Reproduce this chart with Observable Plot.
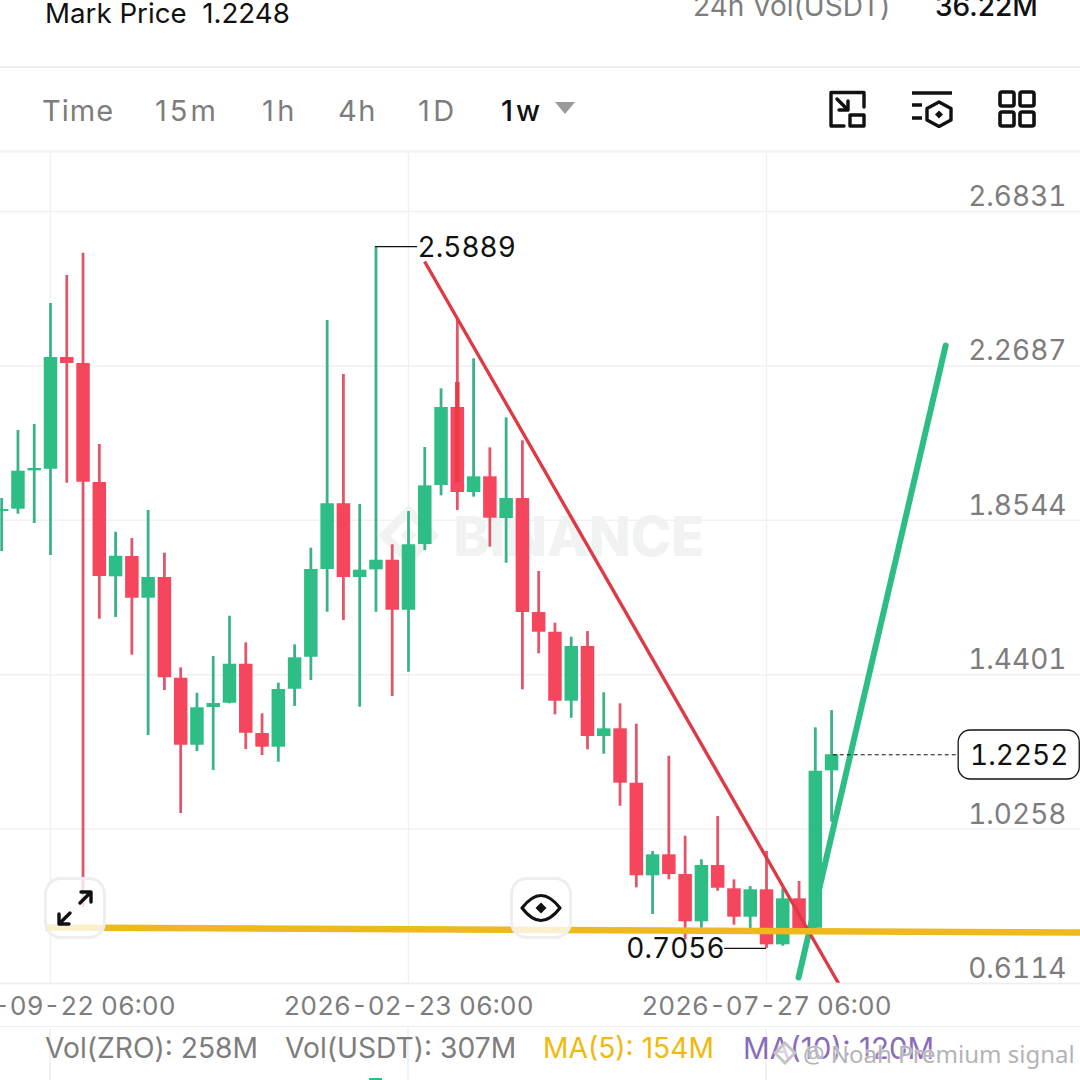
<!DOCTYPE html>
<html>
<head>
<meta charset="utf-8">
<script src="https://cdn.jsdelivr.net/npm/d3@7"></script>
<script src="https://cdn.jsdelivr.net/npm/@observablehq/plot@0.6"></script>
<style>
html,body{margin:0;padding:0;background:#fff;width:1080px;height:1080px;overflow:hidden;font-family:Inter,"Noto Sans",sans-serif}
#page{position:relative;width:1080px;height:1080px;overflow:hidden}
#head{position:relative;height:150px;border-bottom:3px solid #f5f5f5;box-sizing:content-box}
#foot{position:relative;height:53px;border-top:1.5px solid #eeeeee}
.t{position:absolute;white-space:nowrap;line-height:1;font-size:28px;color:#7d7d7d}
.tab{font-size:29px;top:96px}
.rule{position:absolute;left:0;width:1080px;height:1.5px;background:#eeeeee}
.btn{position:absolute;top:877px;width:56px;height:56px;border:3px solid #eeeeee;border-radius:17px;background:rgba(255,255,255,.78);display:flex;align-items:center;justify-content:center}
.vg{position:absolute;top:1.5px;bottom:0;width:1.5px;background:#f2f2f2}
svg{display:block}
</style>
</head>
<body>
<div id="page">
  <div id="head">
    <div class="t" style="left:45px;top:0px;color:#111;font-size:27.7px">Mark Price&nbsp; 1.2248</div>
    <div class="t" style="left:693px;top:-8px">24h Vol(USDT)</div>
    <div class="t" style="left:935px;top:-8px;color:#111;font-weight:500">36.22M</div>
    <div class="rule" style="top:66px"></div>
    <div class="t tab" style="left:42px;letter-spacing:1px">Time</div>
    <div class="t tab" style="left:155px;letter-spacing:3px">15m</div>
    <div class="t tab" style="left:262px;letter-spacing:3.500px">1h</div>
    <div class="t tab" style="left:338px;letter-spacing:1.500px">4h</div>
    <div class="t tab" style="left:418px;letter-spacing:3.500px">1D</div>
    <div class="t tab" style="left:501px;letter-spacing:3px;color:#111;font-weight:500">1w</div>
    <svg style="position:absolute;left:555px;top:102px" width="20" height="12"><path d="M0 0H20L10 12Z" fill="#9a9a9a"/></svg>
    <svg style="position:absolute;left:828px;top:90px" width="38" height="38" fill="none" stroke="#111" stroke-width="3.4" stroke-linejoin="round" stroke-linecap="round"><path d="M16 36H3V2.500H36V17"/><path d="M9 9L20 20M20 11V20H11"/><rect x="22" y="25" width="14" height="11"/></svg>
    <svg style="position:absolute;left:911px;top:90px" width="42" height="38" fill="none" stroke="#111" stroke-width="3.4" stroke-linejoin="round"><path d="M1 3H41M1 15H11M1 28H11"/><path d="M28 12L40 18.500V30L28 36.500L16 30V18.500Z"/><path d="M28 20.500L32 24.500L28 28.500L24 24.500Z" fill="#111" stroke="none"/></svg>
    <svg style="position:absolute;left:998px;top:90px" width="38" height="38" fill="none" stroke="#111" stroke-width="3.6" stroke-linejoin="round"><rect x="2" y="2" width="14" height="14" rx="2"/><rect x="22" y="2" width="14" height="14" rx="2"/><rect x="2" y="22" width="14" height="14" rx="2"/><rect x="22" y="22" width="14" height="14" rx="2"/></svg>
  </div>
  <div id="chart"></div>
  <div id="foot">
    <div class="vg" style="left:49px"></div>
    <div class="vg" style="left:407px"></div>
    <div class="vg" style="left:765px"></div>
    <div class="t" style="left:45px;top:7px;font-size:28.2px">Vol(ZRO): 258M</div>
    <div class="t" style="left:285px;top:7px;font-size:28.2px">Vol(USDT): 307M</div>
    <div class="t" style="left:543px;top:7px;font-size:28.2px;color:#F0B90B">MA(5): 154M</div>
    <div class="t" style="left:743px;top:7px;font-size:29.5px;color:#8A6DB8">MA(10): 120M</div>
    <div style="position:absolute;left:369px;top:51px;width:13px;height:3px;background:#2EBD85"></div>
    <svg style="position:absolute;left:773px;top:14px" width="24" height="24" fill="none" stroke="#c4c4c4" stroke-width="3"><path d="M12 2L22 12L12 22L2 12Z" fill="rgba(255,255,255,.7)"/></svg>
    <div class="t" style="left:803px;top:15px;font-size:24px;color:#b4b4b4;font-family:'Noto Sans';text-shadow:0 0 2px #fff,0 0 2px #fff">@ Noah Premium signal</div>
  </div>
  <div class="btn" style="left:44px">
    <svg width="44" height="44" fill="none" stroke="#111" stroke-width="3.4" stroke-linecap="round" stroke-linejoin="round"><path d="M27 17L37 7M28 6H38V16M17 27L7 37M6 28V38H16"/></svg>
  </div>
  <div class="btn" style="left:510px">
    <svg width="44" height="44" fill="none" stroke="#111" stroke-width="3.2" stroke-linejoin="round"><path d="M3 22C10 13 16 9.500 22 9.500C28 9.500 34 13 41 22C34 31 28 34.500 22 34.500C16 34.500 10 31 3 22Z"/><path d="M22 16.500L27.500 22L22 27.500L16.500 22Z" fill="#111" stroke="none"/></svg>
  </div>
</div>
<script>
// Weekly candles: the first entry is three weeks before 2025-09-22 06:00 (week 0)
const firstWeek = -3;
const opens  = [1.8780,1.8842,1.9872,1.9915,2.2913,2.2752,1.9558,1.7027,1.7572,1.6453,1.7009,1.4306,1.2508,1.3520,1.3635,1.4682,1.2822,1.2455,1.4011,1.4870,1.7223,1.8986,1.7009,1.7215,1.7473,1.6131,1.7894,1.9477,2.1571,1.9290,1.9711,1.8592,1.9129,1.6069,1.5541,1.3689,1.5157,1.2742,1.2948,1.1489,0.9003,0.9567,0.9038,0.7769,0.9280,0.8655,0.7893,0.8628,0.7152,0.8386,0.7597,1.1822];
const highs  = [1.9129,2.0954,2.1115,2.4362,2.5113,2.5712,2.0578,1.8224,1.8055,1.8807,1.7661,1.4585,1.3904,1.4889,1.5970,1.5256,1.3351,1.4172,1.5203,1.7795,2.3905,2.2456,1.8968,2.5889,1.7886,1.8780,2.0497,2.2073,2.3959,2.2878,2.0489,2.1294,2.0677,1.7170,1.5782,1.5407,1.5559,1.3915,1.3619,1.3072,0.9656,1.2213,1.0066,0.9433,1.0595,0.8896,0.8716,0.9656,0.8655,0.8851,1.2975,1.3439];
const lows   = [1.7706,1.8707,1.8458,1.7599,1.9539,0.8153,1.5890,1.5935,1.4924,1.2769,1.3976,1.0675,1.2339,1.1829,1.3619,1.2393,1.2232,1.2052,1.3547,1.4245,1.6077,1.5855,1.3528,1.6077,1.3815,1.4467,1.7733,1.9201,1.8807,1.9164,1.7822,1.7392,1.3995,1.4961,1.3324,1.3233,1.2385,1.2267,1.0871,0.8681,0.7965,0.8896,0.7286,0.7597,0.8590,0.7678,0.7589,0.7056,0.7115,0.7536,0.7589,1.0442];
const closes = [1.8833,1.9861,1.9934,2.2913,2.2752,1.9566,1.7035,1.7580,1.6453,1.7009,1.4317,1.2508,1.3512,1.3627,1.4682,1.2830,1.2455,1.4003,1.4854,1.7223,1.8986,1.7009,1.7205,1.7473,1.6131,1.7886,1.9469,2.1571,1.9290,1.9711,1.8600,1.9129,1.6069,1.5541,1.3689,1.5157,1.2742,1.2948,1.1489,0.9003,0.9567,0.9038,0.7769,0.9280,0.8671,0.7893,0.8628,0.7152,0.8386,0.7536,1.1811,1.2252];

const priceTicks = [2.6831,2.2687,1.8544,1.4401,1.0258,0.6114];
const weekTicks = [0,22,44];
const weekLabels = ["2025-09-22 06:00","2026-02-23 06:00","2026-07-27 06:00"];

const supportLine = [{w:-0.3,p:0.7616},{w:63.3,p:0.7481}];
const downTrend = [{w:22.99,p:2.5489},{w:48.43,p:0.6114}];
const upTrend = [{w:45.97,p:0.6275},{w:55.01,p:2.3235}];
const highlight = {w:25,p1:2.2241,p2:1.9558};
const hiLabel = {w1:19.98,w2:22.56,p:2.5889,text:"2.5889"};
const loLabel = {w1:41.43,w2:44,p:0.7056,text:"0.7056"};
const lastPrice = {w1:48.1,w2:55.81,w3:63.25,p:1.2252,top:1.2903,bottom:1.1588,text:"1.2252"};
const paneTopPrice = 2.8414;
const logo = {w:22,p:1.8136};
const brand = {w:24.77,p:1.8055,text:"BINANCE"};

const GREEN="#2EBD85", RED="#F6465D", GRID="#f1f1f1", INK="#111111", GREY="#7d7d7d";
const WICK_G="#3BB38A", WICK_R="#E2566B";
const candles = opens.map((o,i)=>{
  const up = closes[i]>=o;
  return {w:i+firstWeek,o,h:highs[i],l:lows[i],c:closes[i],col:up?GREEN:RED,wick:up?WICK_G:WICK_R};
});
const font = "Inter, 'Noto Sans', sans-serif";

const chart = Plot.plot({
  width:1080, height:873,
  marginLeft:0, marginRight:0, marginTop:0, marginBottom:43,
  style:{background:"white",fontFamily:font,overflow:"hidden"},
  x:{type:"linear",domain:[0,44],range:[50,766]},
  y:{type:"linear",domain:[0.6114,2.6831],range:[830,58]},
  color:{type:"identity"},
  marks:[
    Plot.ruleY(priceTicks,{stroke:GRID,strokeWidth:1.5}),
    Plot.ruleX(weekTicks,{y1:0.6114,y2:paneTopPrice,stroke:GRID,strokeWidth:1.5}),
    Plot.dot([logo],{x:"w",y:"p",symbol:"diamond2",r:22,stroke:"#f1f2f2",strokeWidth:9}),
    Plot.dot([logo],{x:"w",y:"p",symbol:"diamond2",r:6,stroke:"#f1f2f2",fill:"#f1f2f2",strokeWidth:2}),
    Plot.text([brand],{x:"w",y:"p",text:"text",textAnchor:"start",fontSize:54.5,fontWeight:800,fill:"#f1f2f2"}),
    Plot.ruleX(candles,{x:"w",y1:"l",y2:"h",stroke:"wick",strokeWidth:2.8}),
    Plot.ruleX(candles,{x:"w",y1:"o",y2:"c",stroke:"col",strokeWidth:13.5}),
    Plot.ruleX([highlight],{x:"w",y1:"p1",y2:"p2",stroke:"#EE3A45",strokeWidth:4.5}),
    Plot.line(upTrend,{x:"w",y:"p",stroke:GREEN,strokeWidth:6,strokeLinecap:"round"}),
    Plot.line(downTrend,{x:"w",y:"p",stroke:"#DB3A46",strokeWidth:3.4,strokeLinecap:"butt"}),
    Plot.line(supportLine,{x:"w",y:"p",stroke:"#EDB91F",strokeWidth:6.5,strokeLinecap:"butt"}),
    Plot.ruleY([hiLabel],{x1:"w1",x2:"w2",y:"p",stroke:INK,strokeWidth:1.2}),
    Plot.text([hiLabel],{x:"w2",y:"p",text:"text",textAnchor:"start",fontSize:28,fontVariant:"tabular-nums",fill:INK,dy:1}),
    Plot.ruleY([loLabel],{x1:"w1",x2:"w2",y:"p",stroke:INK,strokeWidth:1.2}),
    Plot.text([loLabel],{x:"w1",y:"p",text:"text",textAnchor:"end",fontSize:28,fontVariant:"tabular-nums",fill:INK,dy:1}),
    Plot.ruleY([lastPrice],{x1:"w1",x2:"w2",y:"p",stroke:INK,strokeWidth:1,strokeDasharray:"4 3"}),
    Plot.rect([lastPrice],{x1:"w2",x2:"w3",y1:"bottom",y2:"top",fill:"white",stroke:INK,strokeWidth:1.3,rx:12}),
    Plot.text([lastPrice],{x:d=>(d.w2+d.w3)/2,y:"p",text:"text",fontSize:28,fontVariant:"tabular-nums",fill:INK,dy:1}),
    Plot.text(priceTicks,{y:d=>d,frameAnchor:"right",text:d=>d.toFixed(4),textAnchor:"end",dx:-14,dy:-14.5,fontSize:28,fontVariant:"tabular-nums",fill:GREY}),
    Plot.axisX({anchor:"bottom",ticks:weekTicks,tickSize:0,tickPadding:13,fontSize:26,fill:GREY,label:null,textAnchor:"middle",tickFormat:w=>weekLabels[weekTicks.indexOf(w)]}),
    Plot.ruleY([0.6114],{stroke:"#eeeeee",strokeWidth:1.5})
  ]
});
document.getElementById("chart").appendChild(chart);
</script>
</body>
</html>
